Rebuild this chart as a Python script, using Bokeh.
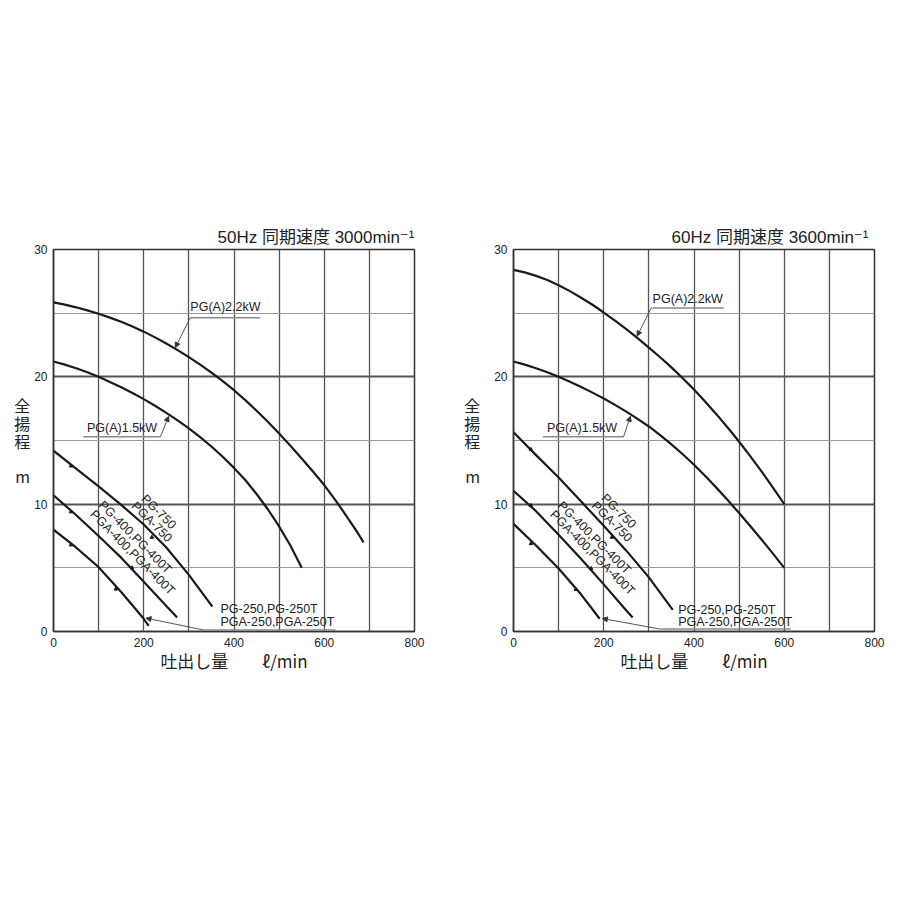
from bokeh.plotting import figure
from bokeh.layouts import row
from bokeh.models import FixedTicker, Grid, Label, Range1d, Arrow, NormalHead
from bokeh.embed import file_html
from bokeh.resources import INLINE

# ---------------- data ----------------
q_ticks = [0, 200, 400, 600, 800]
h_ticks = [0, 10, 20, 30]
q_grid = [100, 200, 300, 400, 500, 600, 700]
h_grid_major = [10, 20]
h_grid_minor = [5, 15, 25]

titles = ["50Hz 同期速度 3000min⁻¹", "60Hz 同期速度 3600min⁻¹"]
x_title = "吐出し量　　ℓ/min"
y_title = "全\n揚\n程\n\nm"

# 50Hz curves (flow l/min, head m)
q50_22 = [0, 25, 50, 75, 100, 125, 150, 175, 200, 225, 250, 275, 300, 325, 350,
          375, 400, 425, 450, 475, 500, 525, 550, 575, 600, 625, 650, 675, 687]
h50_22 = [25.85, 25.67, 25.46, 25.22, 24.95, 24.65, 24.32, 23.95, 23.55, 23.10,
          22.62, 22.10, 21.55, 20.96, 20.33, 19.66, 18.95, 18.17, 17.34, 16.47,
          15.55, 14.59, 13.59, 12.56, 11.50, 10.30, 9.03, 7.70, 7.00]
q50_15 = [0, 25, 50, 75, 100, 125, 150, 175, 200, 225, 250, 275, 300, 325, 350,
          375, 400, 425, 450, 475, 500, 525, 550]
h50_15 = [21.2, 20.96, 20.68, 20.36, 20.0, 19.6, 19.18, 18.73, 18.25, 17.73,
          17.17, 16.58, 15.95, 15.27, 14.53, 13.72, 12.85, 11.9, 10.8, 9.6,
          8.25, 6.75, 5.0]
q50_750 = [0, 50, 100, 150, 200, 250, 300, 352]
h50_750 = [14.2, 12.8, 11.4, 9.95, 8.4, 6.6, 4.45, 1.95]
q50_400 = [0, 50, 100, 150, 200, 250, 274]
h50_400 = [10.7, 9.15, 7.5, 5.8, 3.9, 2.0, 1.1]
q50_250 = [0, 50, 100, 150, 200, 211]
h50_250 = [8.0, 6.6, 5.05, 3.1, 1.0, 0.45]
mark50_q = [38.6, 38.6, 38.6, 218, 174, 138]
mark50_h = [13.0, 9.4, 6.8, 7.4, 5.0, 3.33]

# 60Hz curves
q60_22 = [0, 25, 50, 75, 100, 125, 150, 175, 200, 225, 250, 275, 300, 325, 350,
          375, 400, 425, 450, 475, 500, 525, 550, 575, 600]
h60_22 = [28.4, 28.2, 27.93, 27.6, 27.2, 26.73, 26.21, 25.66, 25.05, 24.41,
          23.74, 23.04, 22.3, 21.54, 20.74, 19.89, 19.0, 18.05, 17.05, 16.0,
          14.9, 13.75, 12.55, 11.3, 10.0]
q60_15 = [0, 25, 50, 75, 100, 125, 150, 175, 200, 225, 250, 275, 300, 325, 350,
          375, 400, 425, 450, 475, 500, 525, 550, 575, 600]
h60_15 = [21.2, 20.96, 20.68, 20.36, 20.0, 19.61, 19.2, 18.76, 18.3, 17.8,
          17.27, 16.7, 16.1, 15.42, 14.69, 13.92, 13.1, 12.21, 11.28, 10.31,
          9.3, 8.27, 7.21, 6.12, 5.0]
q60_750 = [0, 50, 100, 150, 200, 250, 300, 353]
h60_750 = [15.65, 13.85, 12.1, 10.2, 8.3, 6.35, 4.25, 1.7]
q60_400 = [0, 50, 100, 150, 200, 250, 264]
h60_400 = [11.05, 9.45, 7.6, 5.7, 3.7, 1.65, 1.1]
q60_250 = [0, 50, 100, 150, 191]
h60_250 = [8.45, 6.75, 4.95, 2.9, 1.0]
mark60_q = [38.6, 38.6, 38.6, 218, 172, 138]
mark60_h = [14.3, 9.9, 6.9, 7.4, 4.95, 3.3]

labels_22 = "PG(A)2.2kW"
labels_15 = "PG(A)1.5kW"
labels_rot = ["PG-750", "PGA-750", "PG-400,PG-400T", "PGA-400,PGA-400T"]
labels_250 = ["PG-250,PG-250T", "PGA-250,PGA-250T"]

# ---------------- annotation layout ----------------
LATIN = "Liberation Sans, Noto Sans CJK JP, DejaVu Sans"
CJK = "Noto Sans CJK JP"
INK = "#1a1a1a"
TXT = "#222222"

layout50 = dict(
    lab22=(381, 25.5), ul22=(303, 458, 24.64), tip22=(270, 22.3),
    lab15=(152, 16.0), ul15=(66, 237, 15.3), tip15=(255, 16.9),
    rot=[(233, 9.4), (218, 8.6), (181, 7.4), (175, 6.2)],
    lab250=(370, 1.77, 0.71), ul250=(334, 625, 0.11), tip250=(205, 1.05),
    title_dx=0, ylab_standoff=1,
)
layout60 = dict(
    lab22=(386, 26.1), ul22=(305, 466, 25.4), tip22=(274, 23.2),
    lab15=(152, 16.0), ul15=(65, 244, 15.3), tip15=(259, 16.9),
    rot=[(233, 9.45), (218, 8.62), (179, 7.36), (175, 6.18)],
    lab250=(365, 1.7, 0.71), ul250=(325, 614, 0.19), tip250=(197, 1.02),
    title_dx=6, ylab_standoff=11,
)


def make_panel(curves, mq, mh, title, L, width, border_left, border_right):
    p = figure(width=width, height=691, x_range=Range1d(0, 800), y_range=Range1d(0, 30),
               output_backend="svg", toolbar_location=None,
               min_border_left=border_left, min_border_right=border_right,
               min_border_top=249, min_border_bottom=60,
               background_fill_color="white", border_fill_color="white")
    p.outline_line_color = "#333333"
    p.outline_line_width = 1.5

    # title
    p.title.text = title
    p.title.align = "right"
    p.title.offset = L["title_dx"]
    p.title.standoff = 5
    p.title.text_font = LATIN
    p.title.text_font_size = "17px"
    p.title.text_font_style = "normal"
    p.title.text_color = TXT

    # axes
    for ax in (p.xaxis[0], p.yaxis[0]):
        ax.major_tick_line_color = None
        ax.minor_tick_line_color = None
        ax.axis_line_color = "#333333"
        ax.axis_line_width = 1.5
        ax.major_label_text_font = LATIN
        ax.major_label_text_font_size = "12px"
        ax.major_label_text_color = TXT
        ax.major_label_standoff = 0
        ax.axis_label_text_font = CJK
        ax.axis_label_text_font_size = "16px"
        ax.axis_label_text_font_style = "normal"
        ax.axis_label_text_color = TXT
    p.xaxis.ticker = FixedTicker(ticks=q_ticks)
    p.yaxis.ticker = FixedTicker(ticks=h_ticks)
    p.xaxis.axis_label = x_title
    p.xaxis.axis_label_text_font_size = "17px"
    p.xaxis.axis_label_standoff = -2
    p.yaxis.axis_label = y_title
    p.yaxis.axis_label_orientation = "horizontal"
    p.yaxis.axis_label_text_line_height = 0.74
    p.yaxis.axis_label_standoff = L["ylab_standoff"]

    # grids
    p.xgrid.ticker = FixedTicker(ticks=q_grid)
    p.xgrid.grid_line_color = "#555555"
    p.xgrid.grid_line_width = 1.3
    p.ygrid.ticker = FixedTicker(ticks=h_grid_major)
    p.ygrid.grid_line_color = "#555555"
    p.ygrid.grid_line_width = 2
    p.add_layout(Grid(dimension=1, ticker=FixedTicker(ticks=h_grid_minor),
                      grid_line_color="#9a9a9a", grid_line_width=1))

    # curves
    for q, h in curves:
        p.line(q, h, line_color=INK, line_width=2.2, line_join="round")
    p.scatter(mq, mh, marker="triangle", size=3.5, color=INK)

    def underline(x0, x1, y):
        p.add_layout(Arrow(end=None, x_start=x0, y_start=y, x_end=x1, y_end=y,
                           line_color="#8a8a8a", line_width=1.5))

    def leader(x0, y0, x1, y1):
        p.add_layout(Arrow(end=NormalHead(size=5, fill_color="#333333", line_color="#333333", line_width=1),
                           x_start=x0, y_start=y0, x_end=x1, y_end=y1,
                           line_color="#555555", line_width=1))

    x, y = L["lab22"]
    p.add_layout(Label(x=x, y=y, text=labels_22, text_align="center", text_baseline="middle",
                       text_font=LATIN, text_font_size="12.5px", text_color=TXT))
    ux0, ux1, uy = L["ul22"]
    underline(ux0, ux1, uy)
    leader(ux0, uy, *L["tip22"])

    x, y = L["lab15"]
    p.add_layout(Label(x=x, y=y, text=labels_15, text_align="center", text_baseline="middle",
                       text_font=LATIN, text_font_size="12.5px", text_color=TXT))
    ux0, ux1, uy = L["ul15"]
    underline(ux0, ux1, uy)
    leader(ux1, uy, *L["tip15"])

    for txt, (x, y) in zip(labels_rot, L["rot"]):
        p.add_layout(Label(x=x, y=y, text=txt, angle=-0.785, text_align="center",
                           text_baseline="middle", text_font=LATIN, text_font_size="12.5px",
                           text_color=TXT))

    x, y1, y2 = L["lab250"]
    for txt, yy in zip(labels_250, (y1, y2)):
        p.add_layout(Label(x=x, y=yy, text=txt, text_align="left", text_baseline="middle",
                           text_font=LATIN, text_font_size="12.5px", text_color=TXT))
    ux0, ux1, uy = L["ul250"]
    underline(ux0, ux1, uy)
    leader(ux0, uy, *L["tip250"])
    return p


p1 = make_panel([(q50_22, h50_22), (q50_15, h50_15), (q50_750, h50_750),
                 (q50_400, h50_400), (q50_250, h50_250)],
                mark50_q, mark50_h, titles[0], layout50, 450, 53, 36)
p2 = make_panel([(q60_22, h60_22), (q60_15, h60_15), (q60_750, h60_750),
                 (q60_400, h60_400), (q60_250, h60_250)],
                mark60_q, mark60_h, titles[1], layout60, 442, 63, 18)

layout = row(p1, p2)
open("out.html", "w").write(file_html(layout, INLINE))
